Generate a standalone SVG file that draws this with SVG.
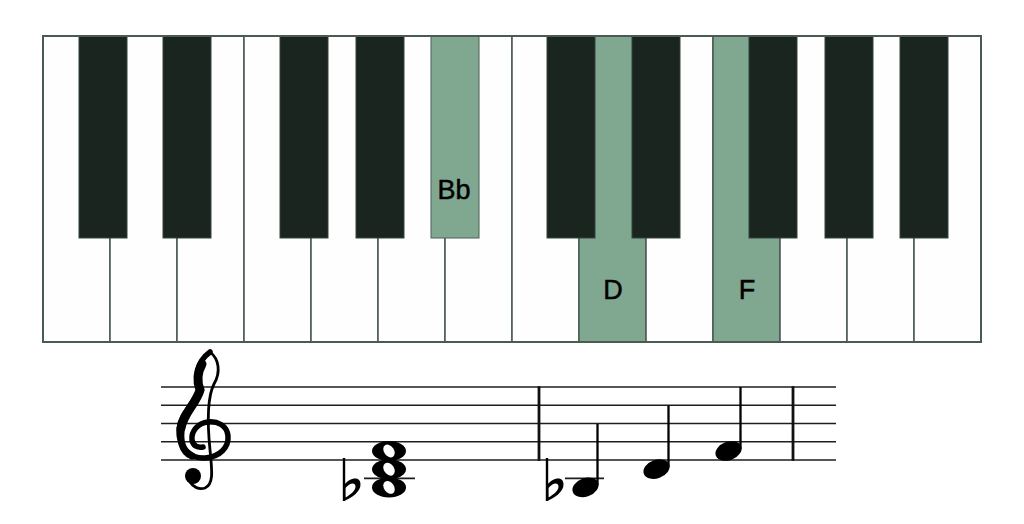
<svg xmlns="http://www.w3.org/2000/svg" width="1024" height="524" viewBox="0 0 1024 524">
<style>
.wk{fill:#fdfefd;stroke:#4d5e56;stroke-width:1.6}
.hl{fill:#80a891;stroke:#4d5e56;stroke-width:1.6}
.bk{fill:#1b2520;stroke:#34443b;stroke-width:1}
.bkh{fill:#80a891;stroke:#4d5e56;stroke-width:1}
.lbl{font-family:"Liberation Sans",Arial,sans-serif;font-size:27px;fill:#000;stroke:#000;stroke-width:0.5;text-anchor:middle}
.sl{stroke:#1e1e1e;stroke-width:1.6}
.bar{stroke:#111;stroke-width:2.8}
.led{stroke:#1e1e1e;stroke-width:1.8}
.stem{stroke:#000;stroke-width:2.3}
</style>
<defs>
<g id="qhead"><ellipse cx="0" cy="0" rx="13.5" ry="9.2" transform="rotate(-20)" fill="#000"/></g>
<g id="whole"><ellipse cx="0" cy="0" rx="17" ry="10" fill="#000"/><ellipse cx="0" cy="0" rx="5" ry="7" transform="rotate(-35)" fill="#fff"/></g>
<g id="flat">
<line x1="0" y1="-43" x2="0" y2="0" stroke="#000" stroke-width="2.4"/>
<path d="M0,-16 C5,-23 16,-26 16.5,-17 C17,-9 7,-3 0,0 Z M1.5,-13 C5,-18 11.5,-19.5 11.5,-14.5 C11.5,-10 6,-6 1.5,-3.5 Z" fill="#000" fill-rule="evenodd"/>
</g>
</defs>
<rect width="1024" height="524" fill="#fff"/>
<g id="keyboard">
<g id="white-keys">
<rect class="wk" x="43" y="36" width="67" height="306"/>
<rect class="wk" x="110" y="36" width="67" height="306"/>
<rect class="wk" x="177" y="36" width="67" height="306"/>
<rect class="wk" x="244" y="36" width="67" height="306"/>
<rect class="wk" x="311" y="36" width="67" height="306"/>
<rect class="wk" x="378" y="36" width="67" height="306"/>
<rect class="wk" x="445" y="36" width="67" height="306"/>
<rect class="wk" x="512" y="36" width="67" height="306"/>
<rect class="hl" x="579" y="36" width="67" height="306"/>
<rect class="wk" x="646" y="36" width="67" height="306"/>
<rect class="hl" x="713" y="36" width="67" height="306"/>
<rect class="wk" x="780" y="36" width="67" height="306"/>
<rect class="wk" x="847" y="36" width="67" height="306"/>
<rect class="wk" x="914" y="36" width="67" height="306"/>
</g>
<g id="black-keys">
<rect class="bk" x="79" y="36" width="48" height="202"/>
<rect class="bk" x="163" y="36" width="48" height="202"/>
<rect class="bk" x="280" y="36" width="48" height="202"/>
<rect class="bk" x="356" y="36" width="48" height="202"/>
<rect class="bkh" x="431" y="36" width="48" height="202"/>
<rect class="bk" x="547" y="36" width="48" height="202"/>
<rect class="bk" x="632" y="36" width="48" height="202"/>
<rect class="bk" x="749" y="36" width="48" height="202"/>
<rect class="bk" x="825" y="36" width="48" height="202"/>
<rect class="bk" x="900" y="36" width="48" height="202"/>
</g>
<rect x="43" y="36" width="938" height="306" fill="none" stroke="#4a5b53" stroke-width="2"/>
<g id="labels">
<text class="lbl" x="454" y="198.5">Bb</text>
<text class="lbl" x="613" y="299">D</text>
<text class="lbl" x="747" y="299">F</text>
</g>
</g>
<g id="staff">
<line class="sl" x1="161" y1="387" x2="836" y2="387"/>
<line class="sl" x1="161" y1="405.3" x2="836" y2="405.3"/>
<line class="sl" x1="161" y1="423.5" x2="836" y2="423.5"/>
<line class="sl" x1="161" y1="441.8" x2="836" y2="441.8"/>
<line class="sl" x1="161" y1="460" x2="836" y2="460"/>
<line class="bar" x1="539" y1="386.2" x2="539" y2="460.8"/>
<line class="bar" x1="793" y1="386.2" x2="793" y2="460.8"/>
</g>
<g id="clef">
<path d="M210,352 C195,363 195,380 200,390 C196,404 180,412 179,430 C178,448 192,459 205,458 C220,457 229,447 228,436 C227,425 217,421 208,422 C198,423 191,431 192,440 C193,446 198,448 203,447" fill="none" stroke="#000" stroke-width="5.5" stroke-linecap="round"/>
<path d="M202,364 C197,373 197,382 200,390 C196,404 184,412 181,428" fill="none" stroke="#000" stroke-width="9" stroke-linecap="round"/>
<path d="M182,425 C179,440 182,452 192,456" fill="none" stroke="#000" stroke-width="7" stroke-linecap="round"/>
<path d="M210,352 C219,359 221,372 214,384 C208,396 207,420 210,450 C212,470 214,484 205,488 C199,490 193,487 190,482" fill="none" stroke="#000" stroke-width="2.8" stroke-linecap="round"/>
<circle cx="193" cy="476" r="8" fill="#000"/>
</g>
<g id="chord">
<line class="led" x1="364" y1="478.3" x2="415" y2="478.3"/>
<use href="#flat" x="344" y="501"/>
<use href="#whole" x="389" y="451"/>
<use href="#whole" x="389" y="469.2"/>
<use href="#whole" x="389" y="487.4"/>
</g>
<g id="arpeggio">
<line class="led" x1="565" y1="478.3" x2="604" y2="478.3"/>
<use href="#flat" x="547" y="501"/>
<use href="#qhead" x="585.5" y="487.4"/>
<line class="stem" x1="597.5" y1="424" x2="597.5" y2="485"/>
<use href="#qhead" x="656.5" y="469.2"/>
<line class="stem" x1="668.5" y1="405.5" x2="668.5" y2="467"/>
<use href="#qhead" x="728.5" y="451"/>
<line class="stem" x1="740.5" y1="387" x2="740.5" y2="449"/>
</g>
</svg>
